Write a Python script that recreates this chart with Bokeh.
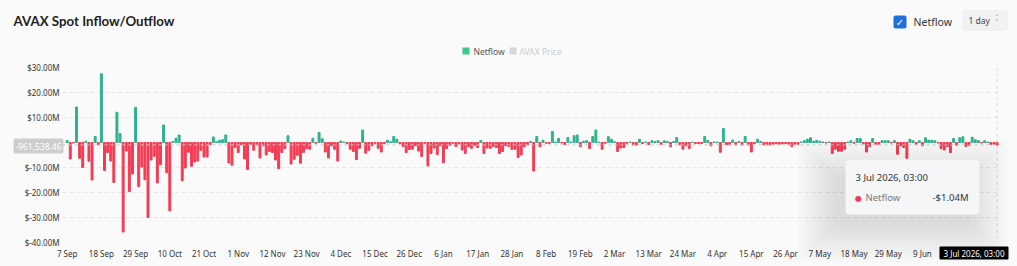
import pandas as pd
from bokeh.plotting import figure
from bokeh.models import (ColumnDataSource, FixedTicker, Label, BoxAnnotation, Span,
                          Range1d)
from bokeh.embed import file_html
from bokeh.resources import INLINE

# ---------------- data ----------------
start_date = "2025-09-07"
netflow_m = [
    0.8, -6.6, -0.2, 14.2, -6.3, -10.0, 0.5, -7.5, -15.0, 2.4,
    -0.9, 27.5, -11.2, -4.0, -7.4, -16.0, 12.1, 3.6, -35.8, -3.4,
    -19.6, -12.6, 14.1, -17.6, -9.8, -14.9, -30.0, -7.0, -5.5, -16.2,
    -8.9, 7.0, -12.1, -27.3, 0.4, 1.7, 3.0, -15.3, -10.2, -3.9,
    -9.5, -7.8, -7.4, -3.1, -5.8, -5.8, -0.8, 2.2, 0.3, 0.9,
    1.1, 3.0, -8.2, -9.1, -2.0, -4.0, -0.9, -6.6, -10.8, -0.9,
    -3.1, -1.0, -6.2, -1.3, -5.0, -3.6, -4.0, -7.0, -10.5, -4.0,
    -2.4, 2.7, -8.6, -6.7, -5.1, -8.3, -4.0, -2.4, -2.7, 1.7,
    -0.3, 4.0, 1.5, -3.8, -6.2, -1.3, -2.7, -7.4, 0.6, 0.2,
    -0.4, -2.7, -3.6, -6.8, -2.3, 5.0, -4.3, -3.1, -1.3, -0.3,
    -2.3, -3.8, -0.5, 0.9, 0.3, 2.4, 1.3, -0.4, -1.6, -4.0,
    -2.8, -2.7, -1.3, -3.4, -5.6, -0.3, -9.4, -4.4, -2.2, -4.8,
    -1.3, -8.1, -2.4, -1.1, -0.3, -1.6, -0.5, -3.0, -4.4, -1.6,
    -2.3, -1.1, -2.0, 0.8, -4.4, -2.2, -2.3, -1.6, -2.0, -4.4,
    -3.6, -1.3, -1.6, -2.7, -2.7, -6.0, -5.0, -1.7, -0.9, 0.4,
    -11.4, 2.4, -1.7, 0.9, -0.3, -0.4, 4.4, 0.2, 1.6, -0.2,
    -0.8, 2.0, 0.2, 2.7, 3.0, -1.6, 0.5, 0.7, -2.4, 2.4,
    5.0, 0.1, -2.7, -0.3, 2.3, 1.3, 0.3, -3.6, -2.2, -2.0,
    -0.3, 0.2, -1.0, -1.0, 1.3, -0.4, 0.2, -0.8, 0.7, 0.4,
    0.7, -0.7, 0.7, 0.4, -1.7, 0.4, 2.0, -0.9, -2.7, -1.3,
    -2.4, 0.2, -0.4, -0.4, -0.4, 2.4, 0.8, -1.3, 0.2, 0.2,
    -3.9, 5.6, -0.9, -0.9, 1.0, -1.0, 0.4, -1.0, 2.4, -0.9,
    -3.8, -0.4, 1.3, 0.4, -0.9, -0.9, -0.9, -0.7, -0.5, -0.7,
    -0.5, -0.4, -0.7, -1.6, -0.7, -0.7, 0.2, 0.7, 1.3, 1.9,
    0.5, 0.8, 0.5, 0.2, -0.2, 0.2, -4.4, -2.7, -3.5, -3.5,
    -2.7, 0.2, 0.7, -0.3, 1.6, 1.6, -0.5, -3.8, -1.6, 1.6,
    -0.7, -0.7, 0.7, 0.7, 0.7, -0.2, 0.7, -4.7, -1.3, -2.0,
    -6.3, 1.3, 0.7, -0.7, 0.7, -1.3, 1.9, 0.9, 0.9, 0.7,
    -0.2, -2.4, -3.0, -1.6, -4.0, 1.6, -1.1, 1.9, 2.3, -1.6,
    -1.1, 2.1, 1.1, 0.7, -0.2, 0.7, 0.2, -0.7, -0.7, -1.04,
]
tick_labels = ["7 Sep", "18 Sep", "29 Sep", "10 Oct", "21 Oct", "1 Nov", "12 Nov",
               "23 Nov", "4 Dec", "15 Dec", "26 Dec", "6 Jan", "17 Jan", "28 Jan",
               "8 Feb", "19 Feb", "2 Mar", "13 Mar", "24 Mar", "4 Apr", "15 Apr",
               "26 Apr", "7 May", "18 May", "29 May", "9 Jun"]
tick_step_days = 11
y_ticks_m = [30, 20, 10, 0, -10, -20, -30, -40]
y_tick_labels = ["$30.00M", "$20.00M", "$10.00M", "", "$-10.00M", "$-20.00M",
                 "$-30.00M", "$-40.00M"]
crosshair_value = -961538.46
crosshair_value_text = "-961,538.46"
hover_date_text = "3 Jul 2026, 03:00"
hover_value_text = "-$1.04M"
title_text = "AVAX Spot Inflow/Outflow"
series_name = "Netflow"
other_series_name = "AVAX Price"
interval_text = "1 day"

# ---------------- styling ----------------
BG = "#fafafa"
GREEN = "#2cb38e"
RED = "#f43b53"
FONT = "Noto Sans"
W, H = 1017, 266
FL, FR, FT, FBM = 62, 17, 67, 24

dates = pd.date_range(start_date, periods=len(netflow_m), freq="D")
x = [(d - dates[0]).days for d in dates]
src = ColumnDataSource(dict(
    x=x,
    top=[v * 1e6 for v in netflow_m],
    color=[GREEN if v >= 0 else RED for v in netflow_m],
))

# ---------------- main chart ----------------
p = figure(width=W, height=H, x_range=(-1.5, len(x) + 0.1),
           y_range=(min(y_ticks_m) * 1e6, max(y_ticks_m) * 1e6),
           output_backend="svg", toolbar_location=None,
           min_border_left=FL, min_border_right=FR, min_border_top=FT,
           min_border_bottom=FBM, background_fill_color=BG,
           border_fill_color=BG, outline_line_color=None)

p.vbar(x="x", top="top", bottom=0, width=0.62, color="color", source=src)

tick_pos = [i * tick_step_days for i in range(len(tick_labels))]
p.xaxis.ticker = FixedTicker(ticks=tick_pos)
p.xaxis.major_label_overrides = {t: l for t, l in zip(tick_pos, tick_labels)}
yt = [v * 1e6 for v in y_ticks_m]
p.yaxis.ticker = FixedTicker(ticks=yt)
p.yaxis.major_label_overrides = {t: l for t, l in zip(yt, y_tick_labels)}
for ax in (p.xaxis[0], p.yaxis[0]):
    ax.axis_line_color = None
    ax.major_tick_line_color = None
    ax.minor_tick_line_color = None
    ax.major_tick_out = 0
    ax.major_tick_in = 0
    ax.major_label_text_font = FONT
    ax.major_label_text_font_size = "8px"
    ax.major_label_text_color = "#333333"
p.xaxis.major_label_standoff = 5
p.yaxis.major_label_standoff = 3
p.xgrid.visible = False
p.ygrid.ticker = FixedTicker(ticks=yt)
p.ygrid.grid_line_color = "#e6e6e6"
p.ygrid.grid_line_dash = "4 3"

# crosshair lines
p.add_layout(Span(location=crosshair_value, dimension="width", line_color="#c8c8c8",
                  line_dash="3 3", line_width=1))
p.add_layout(Span(location=x[-1], dimension="height", line_color="#d6d6d6",
                  line_dash="3 3", line_width=1))

# ---------------- overlay (title, controls, legend, tooltip) ----------------
d = figure(width=W, height=H, x_range=Range1d(0, W), y_range=Range1d(H, 0),
           output_backend="svg", toolbar_location=None,
           x_axis_type=None, y_axis_type=None,
           min_border_left=0, min_border_right=0, min_border_top=0,
           min_border_bottom=0, background_fill_color=None,
           border_fill_color=None, outline_line_color=None)
d.grid.visible = False
d.margin = (-H, 0, 0, 0)


def lab(X, Y, text, size, color, bold=False, align="left", font=FONT):
    d.add_layout(Label(x=X, y=Y, text=text, text_font=font,
                       text_font_size=f"{size}px", text_color=color,
                       text_font_style="bold" if bold else "normal",
                       text_align=align, text_baseline="middle", level="overlay"))


def box(X0, Y0, X1, Y1, fill, alpha=1.0, line=None, radius=0):
    d.add_layout(BoxAnnotation(left=X0, right=X1, top=Y0, bottom=Y1,
                               fill_color=fill, fill_alpha=alpha,
                               line_color=line, border_radius=radius,
                               level="annotation"))


# title
lab(13, 20.5, title_text, 13.3, "#1e1e1e", bold=True, font="Lato")

# top-right controls
box(893, 15, 906, 28, "#1f6fdc", radius=2)
lab(899.5, 21.5, "\u2713", 10, "white", bold=True, align="center", font="DejaVu Sans")
lab(913, 21.5, series_name, 10.5, "#333333")
box(962, 10, 1007, 30, "#f1f2f4", line="#e2e4e8", radius=4)
lab(968, 20, interval_text, 8.5, "#444444")
lab(996.5, 17.5, "\u02c4", 7, "#777777", align="center", font="DejaVu Sans")
lab(996.5, 22.5, "\u02c5", 7, "#777777", align="center", font="DejaVu Sans")

# legend
box(462, 47, 469, 54, "#3cc888")
lab(473, 50.5, series_name, 8.5, "#555555")
box(509, 47, 516, 54, "#d6d6d6")
lab(519, 50.5, other_series_name, 8.5, "#cccccc")

# y crosshair label
box(13, 138, 63, 153, "#cdcdcd", radius=2)
lab(38, 145.5, crosshair_value_text, 8.5, "white", align="center")

# x crosshair label
box(939, 246, 1008, 259, "#000000", radius=1)
lab(973.5, 252.5, hover_date_text, 8, "white", align="center")

# tooltip shadow + box
for k in range(10):
    g = 4 * k
    box(845 - g - 12, 165 - g + 10, 979 + g - 8, 214 + g + 12, "#000000", alpha=0.011)
box(845, 159, 979, 214, "#f4f6f8", line="#e4e6ea", radius=4)
lab(855, 176.5, hover_date_text, 9.5, "#333333")
lab(858, 197.5, "\u25cf", 8, RED, align="center", font="DejaVu Sans")
lab(865, 197, series_name, 9.5, "#7a7a7a")
lab(968, 197, hover_value_text, 9.5, "#333333", align="right")

open("out.html", "w").write(file_html([p, d], INLINE))
